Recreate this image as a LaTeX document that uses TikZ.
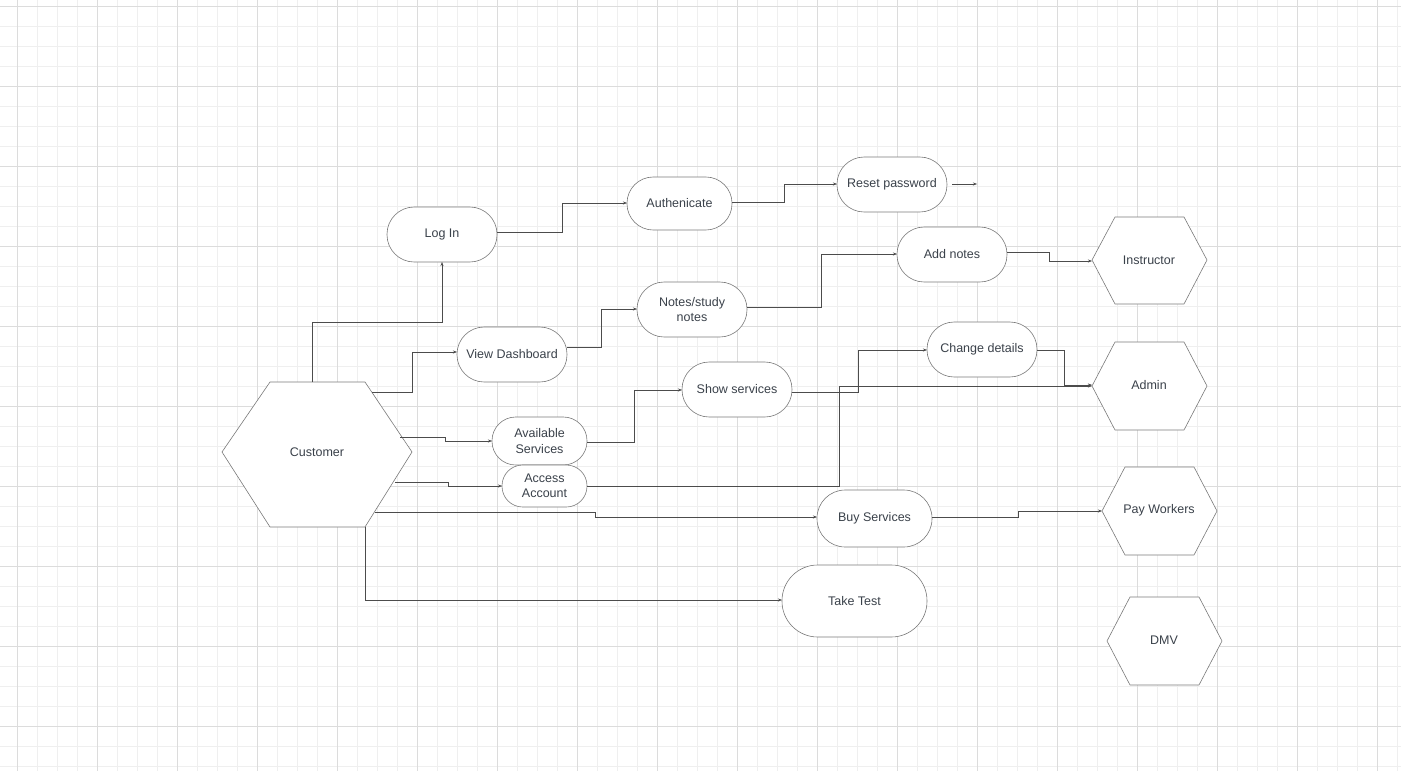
\documentclass[tikz,border=0pt]{standalone}
\usepackage{fontspec}
\setmainfont{Liberation Sans}
\usetikzlibrary{arrows.meta}
\definecolor{txt}{HTML}{3A414A}
\definecolor{shp}{HTML}{7A7A7A}
\definecolor{gmin}{HTML}{EFEFEF}
\definecolor{gmaj}{HTML}{DCDCDC}
\begin{document}
\begin{tikzpicture}[x=1pt,y=-1pt,
  pill/.style={draw=shp,line width=0.6pt,fill=white},
  lbl/.style={text=txt,font=\fontsize{12.5}{15.5}\selectfont,align=center},
  hexa/.style={draw=shp,line width=0.6pt,fill=white},
  con/.style={draw=black!70,line width=0.5pt,-{Stealth[length=4pt,width=3pt]}}]
\useasboundingbox (0,0) rectangle (1401,771);
\fill[white] (0,0) rectangle (1401,771);
\foreach \x in {17,37,...,1401} \draw[gmin,line width=0.8pt] (\x,0) -- (\x,771);
\foreach \y in {6,26,...,771} \draw[gmin,line width=0.8pt] (0,\y) -- (1401,\y);
\foreach \x in {17,97,...,1401} \draw[gmaj,line width=0.8pt] (\x,0) -- (\x,771);
\foreach \y in {6,86,...,771} \draw[gmaj,line width=0.8pt] (0,\y) -- (1401,\y);
% hexagons
\newcommand{\hexag}[5]{\draw[hexa] (#1,#3) -- (#1+23,#4) -- (#2-23,#4) -- (#2,#3) -- (#2-23,#5) -- (#1+23,#5) -- cycle;}
\draw[hexa] (222,452) -- (270,382) -- (365,382) -- (412,452) -- (365,527) -- (270,527) -- cycle;
\node[lbl] (cust) at (317,452) {Customer};
\hexag{1092}{1207}{260}{217}{304}
\node[lbl] (instr) at (1149,260) {Instructor};
\hexag{1092}{1207}{386}{342}{430}
\node[lbl] (admin) at (1149,385) {Admin};
\hexag{1102}{1217}{511}{467}{555}
\node[lbl] (pay) at (1159,510) {Pay Workers};
\hexag{1107}{1222}{641}{597}{685}
\node[lbl] (dmv) at (1164,640) {DMV};
% pills
\newcommand{\pillbox}[6]{\pgfmathsetmacro{\rr}{(#5-#4)/2-0.3}\draw[pill,rounded corners=\rr pt] (#2,#4) rectangle (#3,#5); \node[lbl] (#1) at ({(#2+#3)/2},{(#4+#5)/2}) {#6};}
\pillbox{login}{387}{497}{207}{262}{Log In}
\pillbox{auth}{627}{732}{177}{230}{Authenicate}
\pillbox{reset}{837}{947}{157}{212}{Reset password}
\pillbox{addn}{897}{1007}{227}{282}{Add notes}
\pillbox{notes}{637}{747}{282}{337}{Notes/study\\notes}
\pillbox{dash}{457}{567}{327}{382}{View Dashboard}
\pillbox{chg}{927}{1037}{322}{377}{Change details}
\pillbox{show}{682}{792}{362}{417}{Show services}
\pillbox{avail}{492}{587}{417}{465}{Available\\Services}
\pillbox{acc}{502}{587}{465}{507}{Access\\Account}
\pillbox{buy}{817}{932}{490}{547}{Buy Services}
\pillbox{test}{782}{927}{565}{637}{Take Test}
\coordinate (rs) at (952,184);
\coordinate (re) at (977,184);
% connectors
\draw[con] (312,382) -- (312,322) -- (442,322) -- (442,262);
\draw[con] (372,392) -- (412,392) -- (412,352) -- (457,352);
\draw[con] (400,437) -- (445,437) -- (445,441) -- (492,441);
\draw[con] (395,482) -- (448,482) -- (448,486) -- (502,486);
\draw[con] (375,512) -- (595,512) -- (595,517) -- (817,517);
\draw[con] (365,527) -- (365,600) -- (782,600);
\draw[con] (497,232) -- (562,232) -- (562,203) -- (627,203);
\draw[con] (732,202) -- (784,202) -- (784,184) -- (837,184);
\draw[con] (rs) -- (re);
\draw[con] (567,347) -- (601,347) -- (601,309) -- (637,309);
\draw[con] (747,307) -- (821,307) -- (821,254) -- (897,254);
\draw[con] (1007,252) -- (1049,252) -- (1049,261) -- (1092,261);
\draw[con] (587,442) -- (634,442) -- (634,390) -- (682,390);
\draw[con] (792,392) -- (858,392) -- (858,350) -- (927,350);
\draw[con] (1037,350) -- (1064,350) -- (1064,385) -- (1092,385);
\draw[con] (587,486) -- (839,486) -- (839,386) -- (1092,386);
\draw[con] (932,517) -- (1018,517) -- (1018,511) -- (1102,511);
\end{tikzpicture}
\end{document}
